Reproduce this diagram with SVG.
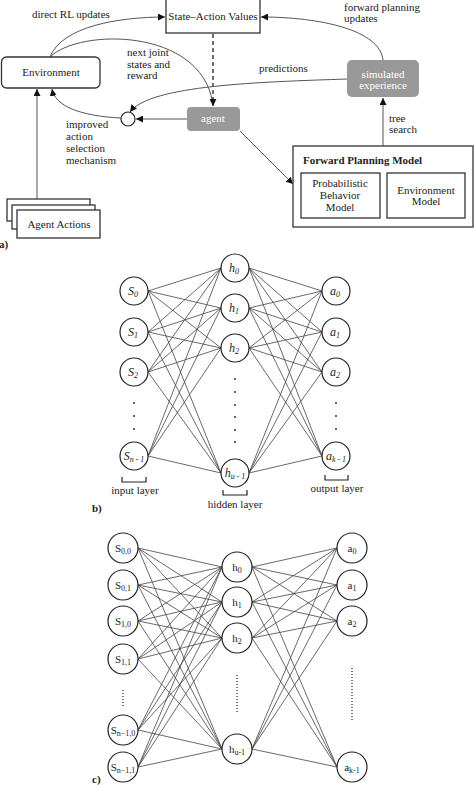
<svg xmlns="http://www.w3.org/2000/svg" width="474" height="785" viewBox="0 0 474 785">
<defs>
<marker id="ah" viewBox="0 0 10 10" refX="10" refY="5" markerWidth="7" markerHeight="7" orient="auto" markerUnits="userSpaceOnUse"><path d="M0,0 L10,5 L0,10 z" fill="#111"/></marker>
</defs>
<style>
text{font-family:"Liberation Serif","Times New Roman",serif;font-size:11px;fill:#222}
.c{text-anchor:middle}
.b{font-weight:bold}
.w{fill:#fff}
.box{fill:#fff;stroke:#333;stroke-width:1.3}
.gbox{fill:#999;stroke:none}
.con{fill:none;stroke:#555;stroke-width:1}
.dash{fill:none;stroke:#222;stroke-width:1.3;stroke-dasharray:4 3}
.net{stroke:#444;stroke-width:0.8}
.node{fill:#fff;stroke:#222;stroke-width:1.2}
.it{font-style:italic;font-size:12px}
.sub{font-size:8px}
.dot{fill:#333}
.dl{stroke:#333;stroke-width:1.3;stroke-dasharray:1 2}
.brk{fill:none;stroke:#222;stroke-width:1.2}
</style>
<rect width="474" height="785" fill="#fff"/>

<!-- Part a connectors -->
<g id="connectors-a">
<path class="con" d="M50,57 C62,26 120,17 165,17" marker-end="url(#ah)"/>
<path class="con" d="M50,57 C80,28 200,28 212.5,102"/>
<path class="dash" d="M213,34 L213,106" marker-end="url(#ah)"/>
<path class="con" d="M383,60 C380,30 320,17 261,17" marker-end="url(#ah)"/>
<path class="con" d="M347,79 C260,82 150,85 130,112" marker-end="url(#ah)"/>
<path class="con" d="M187,119 L136,119" marker-end="url(#ah)"/>
<path class="con" d="M121,118 C80,116 55,106 52,89" marker-end="url(#ah)"/>
<path class="con" d="M240,131 L293,184" marker-end="url(#ah)"/>
<path class="con" d="M383,146 L383,98" marker-end="url(#ah)"/>
<path class="con" d="M37,199 L37,89" marker-end="url(#ah)"/>
</g>

<g id="state-action-values">
<rect class="box" x="166" y="-1" width="94" height="34"/>
<text class="c" x="213" y="20">State–Action Values</text>
</g>
<g id="environment">
<rect class="box" x="1.5" y="57" width="98.5" height="31" rx="5"/>
<text class="c" x="51" y="76">Environment</text>
</g>
<g id="junction">
<circle cx="128" cy="119" r="7" fill="#fff" stroke="#222" stroke-width="1.2"/>
</g>
<g id="agent">
<rect class="gbox" x="187" y="107" width="53" height="24" rx="4"/>
<text class="c w" x="213" y="122">agent</text>
</g>
<g id="simulated-experience">
<rect class="gbox" x="347" y="60" width="72" height="37" rx="5"/>
<text class="c w" x="383" y="78">simulated</text>
<text class="c w" x="383" y="89">experience</text>
</g>
<g id="forward-planning-model">
<rect class="box" x="293" y="146" width="180" height="81" stroke-width="1.5"/>
<text class="b" x="303" y="164">Forward Planning Model</text>
</g>
<g id="probabilistic-behavior-model">
<rect class="box" x="301" y="173" width="79" height="45"/>
<text class="c" x="340" y="187">Probabilistic</text>
<text class="c" x="340" y="199">Behavior</text>
<text class="c" x="340" y="211">Model</text>
</g>
<g id="environment-model">
<rect class="box" x="387" y="173" width="78" height="45"/>
<text class="c" x="426" y="194">Environment</text>
<text class="c" x="426" y="205">Model</text>
</g>
<g id="agent-actions">
<rect class="box" x="7" y="199" width="83" height="22"/>
<rect class="box" x="12" y="205" width="83" height="24"/>
<rect class="box" x="17" y="210" width="83" height="28"/>
<text class="c" x="59" y="228">Agent Actions</text>
</g>
<g id="labels-a">
<text x="32" y="18">direct RL updates</text>
<text x="127" y="56">next joint</text>
<text x="127" y="68">states and</text>
<text x="127" y="79">reward</text>
<text x="344" y="11">forward planning</text>
<text x="344" y="22">updates</text>
<text x="259" y="72">predictions</text>
<text x="66" y="128">improved</text>
<text x="66" y="140">action</text>
<text x="66" y="152">selection</text>
<text x="66" y="164">mechanism</text>
<text x="389" y="122">tree</text>
<text x="389" y="133">search</text>
<text class="b" x="-1" y="248">a)</text>
</g>

<!-- Part b -->
<g id="connectors-b" class="net">
<line x1="148" y1="291" x2="221" y2="268"/><line x1="148" y1="291" x2="221" y2="308"/><line x1="148" y1="291" x2="221" y2="348"/><line x1="148" y1="291" x2="221" y2="473"/>
<line x1="148" y1="332" x2="221" y2="268"/><line x1="148" y1="332" x2="221" y2="308"/><line x1="148" y1="332" x2="221" y2="348"/><line x1="148" y1="332" x2="221" y2="473"/>
<line x1="148" y1="372" x2="221" y2="268"/><line x1="148" y1="372" x2="221" y2="308"/><line x1="148" y1="372" x2="221" y2="348"/><line x1="148" y1="372" x2="221" y2="473"/>
<line x1="148" y1="456" x2="221" y2="268"/><line x1="148" y1="456" x2="221" y2="308"/><line x1="148" y1="456" x2="221" y2="348"/><line x1="148" y1="456" x2="221" y2="473"/>
<line x1="249" y1="268" x2="322" y2="291"/><line x1="249" y1="268" x2="322" y2="332"/><line x1="249" y1="268" x2="322" y2="372"/><line x1="249" y1="268" x2="322" y2="456"/>
<line x1="249" y1="308" x2="322" y2="291"/><line x1="249" y1="308" x2="322" y2="332"/><line x1="249" y1="308" x2="322" y2="372"/><line x1="249" y1="308" x2="322" y2="456"/>
<line x1="249" y1="348" x2="322" y2="291"/><line x1="249" y1="348" x2="322" y2="332"/><line x1="249" y1="348" x2="322" y2="372"/><line x1="249" y1="348" x2="322" y2="456"/>
<line x1="249" y1="473" x2="322" y2="291"/><line x1="249" y1="473" x2="322" y2="332"/><line x1="249" y1="473" x2="322" y2="372"/><line x1="249" y1="473" x2="322" y2="456"/>
</g>
<g id="b-s0"><circle class="node" cx="134" cy="291" r="14"/><text class="c it" x="133" y="295">S<tspan class="sub" dy="2">0</tspan></text></g>
<g id="b-s1"><circle class="node" cx="134" cy="332" r="14"/><text class="c it" x="133" y="336">S<tspan class="sub" dy="2">1</tspan></text></g>
<g id="b-s2"><circle class="node" cx="134" cy="372" r="14"/><text class="c it" x="133" y="376">S<tspan class="sub" dy="2">2</tspan></text></g>
<g id="b-sn"><circle class="node" cx="134" cy="456" r="14"/><text class="c it" x="134" y="460">S<tspan class="sub" dy="2">n - 1</tspan></text></g>
<g id="b-h0"><circle class="node" cx="235" cy="268" r="14"/><text class="c it" x="234" y="272">h<tspan class="sub" dy="2">0</tspan></text></g>
<g id="b-h1"><circle class="node" cx="235" cy="308" r="14"/><text class="c it" x="234" y="312">h<tspan class="sub" dy="2">1</tspan></text></g>
<g id="b-h2"><circle class="node" cx="235" cy="348" r="14"/><text class="c it" x="234" y="352">h<tspan class="sub" dy="2">2</tspan></text></g>
<g id="b-hu"><circle class="node" cx="235" cy="473" r="14"/><text class="c it" x="235" y="477">h<tspan class="sub" dy="2">u - 1</tspan></text></g>
<g id="b-a0"><circle class="node" cx="336" cy="291" r="14"/><text class="c it" x="335" y="295">a<tspan class="sub" dy="2">0</tspan></text></g>
<g id="b-a1"><circle class="node" cx="336" cy="332" r="14"/><text class="c it" x="335" y="336">a<tspan class="sub" dy="2">1</tspan></text></g>
<g id="b-a2"><circle class="node" cx="336" cy="372" r="14"/><text class="c it" x="335" y="376">a<tspan class="sub" dy="2">2</tspan></text></g>
<g id="b-ak"><circle class="node" cx="336" cy="456" r="14"/><text class="c it" x="336" y="460">a<tspan class="sub" dy="2">k - 1</tspan></text></g>
<g id="b-dots">
<circle class="dot" cx="134" cy="403" r="1"/><circle class="dot" cx="134" cy="416" r="1"/><circle class="dot" cx="134" cy="429" r="1"/>
<circle class="dot" cx="336" cy="403" r="1"/><circle class="dot" cx="336" cy="416" r="1"/><circle class="dot" cx="336" cy="429" r="1"/>
<circle class="dot" cx="235" cy="379" r="1"/><circle class="dot" cx="235" cy="392" r="1"/><circle class="dot" cx="235" cy="405" r="1"/><circle class="dot" cx="235" cy="417" r="1"/><circle class="dot" cx="235" cy="430" r="1"/><circle class="dot" cx="235" cy="442" r="1"/>
</g>
<g id="b-labels">
<path class="brk" d="M122,477 V482 H146 V477"/>
<path class="brk" d="M223,490 V495 H247 V490"/>
<path class="brk" d="M325,475 V480 H348 V475"/>
<text class="c" x="135" y="494">input layer</text>
<text class="c" x="235" y="508">hidden layer</text>
<text class="c" x="337" y="492">output layer</text>
<text class="b" x="92" y="512">b)</text>
</g>

<!-- Part c -->
<g id="connectors-c" class="net">
<line x1="138" y1="548" x2="222" y2="567"/><line x1="138" y1="548" x2="222" y2="602"/><line x1="138" y1="548" x2="222" y2="638"/><line x1="138" y1="548" x2="222" y2="749"/>
<line x1="138" y1="585" x2="222" y2="567"/><line x1="138" y1="585" x2="222" y2="602"/><line x1="138" y1="585" x2="222" y2="638"/><line x1="138" y1="585" x2="222" y2="749"/>
<line x1="138" y1="621" x2="222" y2="567"/><line x1="138" y1="621" x2="222" y2="602"/><line x1="138" y1="621" x2="222" y2="638"/><line x1="138" y1="621" x2="222" y2="749"/>
<line x1="138" y1="659" x2="222" y2="567"/><line x1="138" y1="659" x2="222" y2="602"/><line x1="138" y1="659" x2="222" y2="638"/><line x1="138" y1="659" x2="222" y2="749"/>
<line x1="138" y1="730" x2="222" y2="567"/><line x1="138" y1="730" x2="222" y2="602"/><line x1="138" y1="730" x2="222" y2="638"/><line x1="138" y1="730" x2="222" y2="749"/>
<line x1="138" y1="767" x2="222" y2="567"/><line x1="138" y1="767" x2="222" y2="602"/><line x1="138" y1="767" x2="222" y2="638"/><line x1="138" y1="767" x2="222" y2="749"/>
<line x1="252" y1="567" x2="337" y2="548"/><line x1="252" y1="567" x2="337" y2="585"/><line x1="252" y1="567" x2="337" y2="621"/><line x1="252" y1="567" x2="337" y2="767"/>
<line x1="252" y1="602" x2="337" y2="548"/><line x1="252" y1="602" x2="337" y2="585"/><line x1="252" y1="602" x2="337" y2="621"/><line x1="252" y1="602" x2="337" y2="767"/>
<line x1="252" y1="638" x2="337" y2="548"/><line x1="252" y1="638" x2="337" y2="585"/><line x1="252" y1="638" x2="337" y2="621"/><line x1="252" y1="638" x2="337" y2="767"/>
<line x1="252" y1="749" x2="337" y2="548"/><line x1="252" y1="749" x2="337" y2="585"/><line x1="252" y1="749" x2="337" y2="621"/><line x1="252" y1="749" x2="337" y2="767"/>
</g>
<g id="c-s00"><circle class="node" cx="123" cy="548" r="15"/><text class="c" x="123" y="552">S<tspan class="sub" dy="2">0,0</tspan></text></g>
<g id="c-s01"><circle class="node" cx="123" cy="585" r="15"/><text class="c" x="123" y="589">S<tspan class="sub" dy="2">0,1</tspan></text></g>
<g id="c-s10"><circle class="node" cx="123" cy="621" r="15"/><text class="c" x="123" y="625">S<tspan class="sub" dy="2">1,0</tspan></text></g>
<g id="c-s11"><circle class="node" cx="123" cy="659" r="15"/><text class="c" x="123" y="663">S<tspan class="sub" dy="2">1,1</tspan></text></g>
<g id="c-sn0"><circle class="node" cx="123" cy="730" r="15"/><text class="c" x="123" y="734">S<tspan class="sub" dy="2">n−1,0</tspan></text></g>
<g id="c-sn1"><circle class="node" cx="123" cy="767" r="15"/><text class="c" x="123" y="771">S<tspan class="sub" dy="2">n−1,1</tspan></text></g>
<g id="c-h0"><circle class="node" cx="237" cy="567" r="15"/><text class="c" x="237" y="571">h<tspan class="sub" dy="2">0</tspan></text></g>
<g id="c-h1"><circle class="node" cx="237" cy="602" r="15"/><text class="c" x="237" y="606">h<tspan class="sub" dy="2">1</tspan></text></g>
<g id="c-h2"><circle class="node" cx="237" cy="638" r="15"/><text class="c" x="237" y="642">h<tspan class="sub" dy="2">2</tspan></text></g>
<g id="c-hu"><circle class="node" cx="237" cy="749" r="15"/><text class="c" x="237" y="753">h<tspan class="sub" dy="2">u-1</tspan></text></g>
<g id="c-a0"><circle class="node" cx="352" cy="548" r="15"/><text class="c" x="352" y="552">a<tspan class="sub" dy="2">0</tspan></text></g>
<g id="c-a1"><circle class="node" cx="352" cy="585" r="15"/><text class="c" x="352" y="589">a<tspan class="sub" dy="2">1</tspan></text></g>
<g id="c-a2"><circle class="node" cx="352" cy="621" r="15"/><text class="c" x="352" y="625">a<tspan class="sub" dy="2">2</tspan></text></g>
<g id="c-ak"><circle class="node" cx="352" cy="767" r="15"/><text class="c" x="352" y="771">a<tspan class="sub" dy="2">k-1</tspan></text></g>
<g id="c-dots">
<line class="dl" x1="123" y1="690" x2="123" y2="706"/>
<line class="dl" x1="237" y1="675" x2="237" y2="714"/>
<line class="dl" x1="352" y1="668" x2="352" y2="721"/>
<text class="b" x="92" y="783">c)</text>
</g>
</svg>
